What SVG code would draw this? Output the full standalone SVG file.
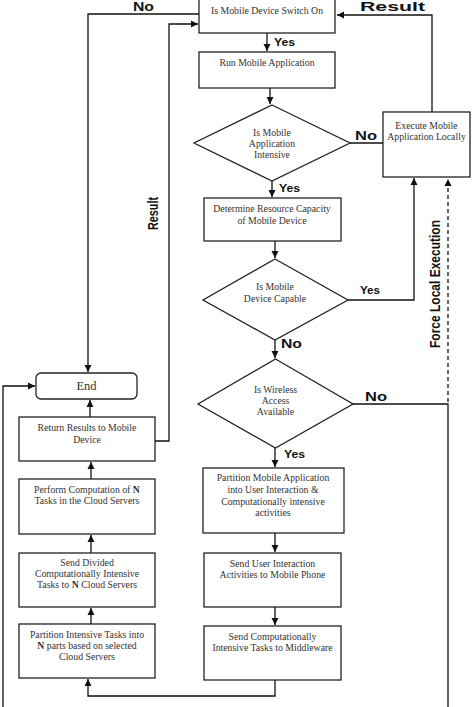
<svg xmlns="http://www.w3.org/2000/svg" width="474" height="707" viewBox="0 0 474 707">
<style>
.box{fill:#fff;stroke:#222;stroke-width:1.3}
.t{font-family:"Liberation Serif","Times New Roman",serif;font-size:9.8px;fill:#333;text-anchor:middle}
.l{font-family:"Liberation Sans",Arial,sans-serif;font-weight:bold;fill:#111}
.c{fill:none;stroke:#111;stroke-width:1.3}
.d{fill:none;stroke:#111;stroke-width:1.3;stroke-dasharray:4,3}
</style>
<defs>
<marker id="a" markerUnits="userSpaceOnUse" markerWidth="8" markerHeight="8" refX="7" refY="4" orient="auto">
<path d="M0,0.5 L7,4 L0,7.5 z" fill="#111"/>
</marker>
</defs>
<rect width="474" height="707" fill="#fff"/>

<g id="connectors">
<path class="c" d="M199,14 H88 V372" marker-end="url(#a)"/>
<path class="c" d="M155,441 H169 V24 H198" marker-end="url(#a)"/>
<path class="c" d="M432,112 V15 H337" marker-end="url(#a)"/>
<path class="c" d="M267,33 V51" marker-end="url(#a)"/>
<path class="c" d="M270,88 V104" marker-end="url(#a)"/>
<path class="c" d="M350,143 H383"/>
<path class="c" d="M272,181 V197" marker-end="url(#a)"/>
<path class="c" d="M275,241 V258" marker-end="url(#a)"/>
<path class="c" d="M348,300 H414 V178" marker-end="url(#a)"/>
<path class="c" d="M275,340 V358" marker-end="url(#a)"/>
<path class="c" d="M353,404 H448 V707"/>
<path class="d" d="M448,402 V179" marker-end="url(#a)"/>
<path class="c" d="M275,448 V467" marker-end="url(#a)"/>
<path class="c" d="M275,533 V552" marker-end="url(#a)"/>
<path class="c" d="M275,607 V625" marker-end="url(#a)"/>
<path class="c" d="M275,680 V696 H88 V679" marker-end="url(#a)"/>
<path class="c" d="M3,707 V386 H35" marker-end="url(#a)"/>
<path class="c" d="M90,417 V400" marker-end="url(#a)"/>
<path class="c" d="M91,479 V462" marker-end="url(#a)"/>
<path class="c" d="M91,553 V535" marker-end="url(#a)"/>
<path class="c" d="M91,624 V608" marker-end="url(#a)"/>
</g>

<g id="labels">
<text class="l" x="133" y="11" font-size="13" textLength="21" lengthAdjust="spacingAndGlyphs">No</text>
<text class="l" x="360" y="11" font-size="13" textLength="65" lengthAdjust="spacingAndGlyphs">Result</text>
<text class="l" x="274" y="46" font-size="11" textLength="21" lengthAdjust="spacingAndGlyphs">Yes</text>
<text class="l" x="355" y="140" font-size="12" textLength="22" lengthAdjust="spacingAndGlyphs">No</text>
<text class="l" x="279" y="192" font-size="11" textLength="21" lengthAdjust="spacingAndGlyphs">Yes</text>
<text class="l" x="360" y="294" font-size="11" textLength="20" lengthAdjust="spacingAndGlyphs">Yes</text>
<text class="l" x="281" y="348" font-size="12" textLength="21" lengthAdjust="spacingAndGlyphs">No</text>
<text class="l" x="365" y="401" font-size="12" textLength="22" lengthAdjust="spacingAndGlyphs">No</text>
<text class="l" x="284" y="458" font-size="11" textLength="21" lengthAdjust="spacingAndGlyphs">Yes</text>
<text class="l" transform="translate(158,230) rotate(-90)" font-size="15" textLength="33" lengthAdjust="spacingAndGlyphs">Result</text>
<text class="l" transform="translate(440,348) rotate(-90)" font-size="15" textLength="128" lengthAdjust="spacingAndGlyphs">Force Local Execution</text>
</g>

<g id="n-switch"><rect class="box" x="199" y="-10" width="136" height="43"/><text class="t" x="267" y="14">Is Mobile Device Switch On</text></g>
<g id="n-run"><rect class="box" x="199" y="52" width="136" height="36"/><text class="t" x="267" y="66">Run Mobile Application</text></g>
<g id="n-intensive"><polygon class="box" points="272,105 350,143 272,181 194,143"/>
<text class="t" x="272" y="136">Is Mobile</text><text class="t" x="272" y="147">Application</text><text class="t" x="272" y="158">Intensive</text></g>
<g id="n-local"><rect class="box" x="383" y="112" width="87" height="65"/>
<text class="t" x="426.5" y="129">Execute Mobile</text><text class="t" x="426.5" y="140">Application Locally</text></g>
<g id="n-determine"><rect class="box" x="204" y="198" width="137" height="43"/>
<text class="t" x="272" y="212">Determine Resource Capacity</text><text class="t" x="272" y="224">of Mobile Device</text></g>
<g id="n-capable"><polygon class="box" points="275,259 348,300 275,340 203,300"/>
<text class="t" x="275" y="290">Is Mobile</text><text class="t" x="275" y="302">Device Capable</text></g>
<g id="n-wireless"><polygon class="box" points="275.5,359 353,404 275.5,448 198,404"/>
<text class="t" x="275.5" y="393">Is Wireless</text><text class="t" x="275.5" y="404">Access</text><text class="t" x="275.5" y="415">Available</text></g>
<g id="n-partition"><rect class="box" x="203" y="468" width="141" height="65"/>
<text class="t" x="273" y="481">Partition Mobile Application</text><text class="t" x="273" y="493">into User Interaction &amp;</text><text class="t" x="273" y="505">Computationally intensive</text><text class="t" x="273" y="516">activities</text></g>
<g id="n-senduser"><rect class="box" x="204" y="553" width="137" height="54"/>
<text class="t" x="272.5" y="567">Send User Interaction</text><text class="t" x="272.5" y="578">Activities to Mobile Phone</text></g>
<g id="n-sendmid"><rect class="box" x="204" y="626" width="137" height="54"/>
<text class="t" x="272.5" y="640">Send Computationally</text><text class="t" x="272.5" y="651">Intensive Tasks to Middleware</text></g>
<g id="n-end"><rect class="box" x="36" y="373" width="101" height="26" rx="5"/><text class="t" x="86.5" y="390" style="font-size:12.5px">End</text></g>
<g id="n-return"><rect class="box" x="19" y="417" width="136" height="44"/>
<text class="t" x="87" y="431">Return Results to Mobile</text><text class="t" x="87" y="443">Device</text></g>
<g id="n-perform"><rect class="box" x="19" y="479" width="136" height="55"/>
<text class="t" x="87" y="493">Perform Computation of <tspan font-weight="bold">N</tspan></text><text class="t" x="87" y="504">Tasks in the Cloud Servers</text></g>
<g id="n-senddiv"><rect class="box" x="19" y="553" width="136" height="54"/>
<text class="t" x="87" y="566">Send Divided</text><text class="t" x="87" y="577">Computationally Intensive</text><text class="t" x="87" y="588">Tasks to <tspan font-weight="bold">N</tspan> Cloud Servers</text></g>
<g id="n-partN"><rect class="box" x="19" y="624" width="136" height="54"/>
<text class="t" x="87" y="638">Partition Intensive Tasks into</text><text class="t" x="87" y="649"><tspan font-weight="bold">N</tspan> parts based on selected</text><text class="t" x="87" y="660">Cloud Servers</text></g>
</svg>
